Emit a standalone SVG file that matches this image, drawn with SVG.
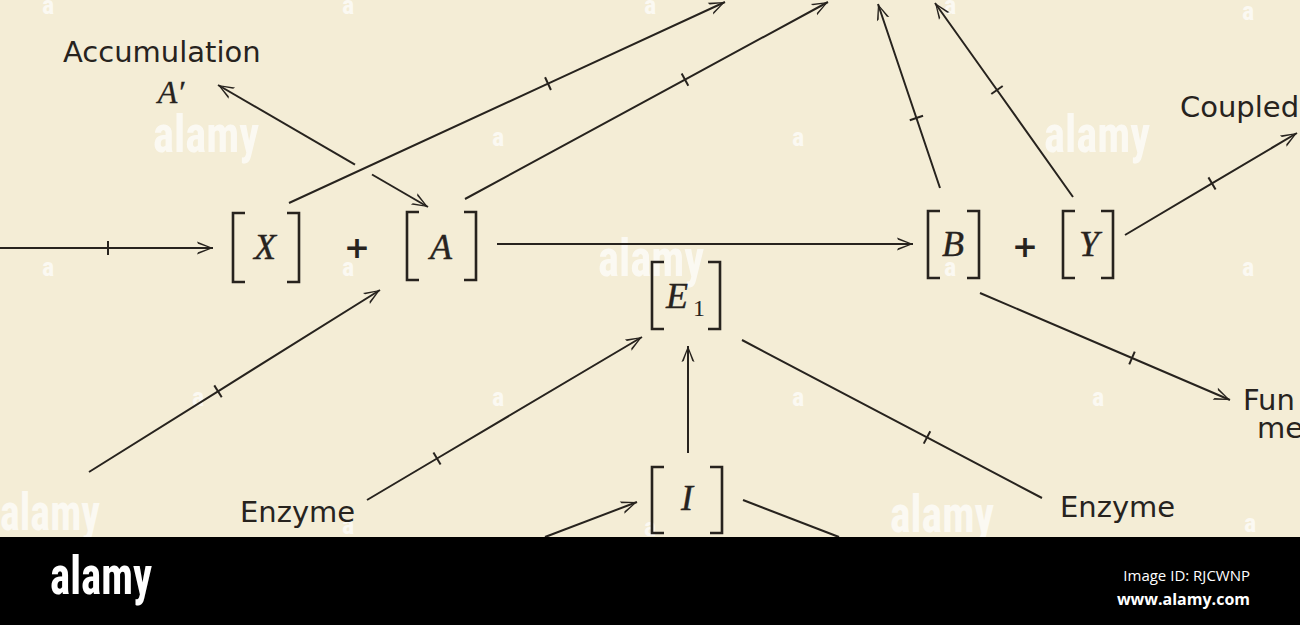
<svg xmlns="http://www.w3.org/2000/svg" width="1300" height="625" viewBox="0 0 1300 625">
  <style>
    .ln { fill: none; stroke: #27231e; stroke-width: 2; }
    .br { fill: none; stroke: #27231e; stroke-width: 2.6; }
    .var { font-family: "Liberation Serif", "DejaVu Serif", serif; font-style: italic; font-size: 36px; fill: #27231e; stroke: #27231e; stroke-width: 0.4; text-anchor: middle; }
    .lbl { font-family: "DejaVu Sans", "Liberation Sans", sans-serif; font-size: 29px; fill: #27231e; }
    .plus { font-family: "DejaVu Sans", sans-serif; font-weight: bold; font-size: 31px; fill: #27231e; text-anchor: middle; }
    .wm { font-family: "Liberation Sans Narrow", "Roboto Condensed", "Liberation Sans", sans-serif; font-weight: bold; fill: #ffffff; }
  </style>
  <defs>
    <marker id="arrow" viewBox="-18 -8 20 16" refX="0" refY="0" markerWidth="20" markerHeight="16" markerUnits="userSpaceOnUse" orient="auto">
      <path d="M0,0 L-16,-6.5 L-15,-4.3 L-3,0 L-15,4.3 L-16,6.5 Z" fill="#27231e"/>
    </marker>
    <marker id="tick" viewBox="-2 -9 4 18" refX="0" refY="0" markerWidth="4" markerHeight="18" markerUnits="userSpaceOnUse" orient="auto">
      <path d="M0,-7 L0,7" stroke="#27231e" stroke-width="2"/>
    </marker>
  </defs>

  <rect x="0" y="0" width="1300" height="625" fill="#f4edd6"/>

  <!-- watermarks -->
  <g id="watermark" opacity="0.7">
    <g class="wm" font-size="26">
      <text x="42" y="14">a</text>
      <text x="342" y="14">a</text>
      <text x="644" y="14">a</text>
      <text x="944" y="14">a</text>
      <text x="1242" y="20">a</text>
      <text x="492" y="146">a</text>
      <text x="792" y="146">a</text>
      <text x="42" y="276">a</text>
      <text x="342" y="276">a</text>
      <text x="944" y="276">a</text>
      <text x="1242" y="276">a</text>
      <text x="192" y="406">a</text>
      <text x="492" y="406">a</text>
      <text x="792" y="406">a</text>
      <text x="1092" y="406">a</text>
      <text x="342" y="534">a</text>
      <text x="644" y="536">a</text>
      <text x="1244" y="532">a</text>
    </g>
    <g class="wm" font-size="52">
      <text x="153" y="152" textLength="106" lengthAdjust="spacingAndGlyphs">alamy</text>
      <text x="1044" y="152" textLength="106" lengthAdjust="spacingAndGlyphs">alamy</text>
      <text x="598" y="276" textLength="106" lengthAdjust="spacingAndGlyphs">alamy</text>
      <text x="0" y="530" textLength="100" lengthAdjust="spacingAndGlyphs">alamy</text>
      <text x="890" y="532" textLength="104" lengthAdjust="spacingAndGlyphs">alamy</text>
    </g>
  </g>

  <!-- connectors -->
  <g id="connectors">
    <path class="ln" d="M0,248 L108,248 L213,248" marker-mid="url(#tick)" marker-end="url(#arrow)"/>
    <path class="ln" d="M289,203 L548,83.6 L725,2" marker-mid="url(#tick)" marker-end="url(#arrow)"/>
    <path class="ln" d="M465,199 L685,79.6 L828,2" marker-mid="url(#tick)" marker-end="url(#arrow)"/>
    <path class="ln" d="M940,188 L916.4,118 L878,4" marker-mid="url(#tick)" marker-end="url(#arrow)"/>
    <path class="ln" d="M1073,197 L997,90 L935,3" marker-mid="url(#tick)" marker-end="url(#arrow)"/>
    <path class="ln" d="M355,164.6 L218,85" marker-end="url(#arrow)"/>
    <path class="ln" d="M372,174.5 L428,207" marker-end="url(#arrow)"/>
    <path class="ln" d="M497,244 L913,244" marker-end="url(#arrow)"/>
    <path class="ln" d="M89,472 L218,391.3 L380,290" marker-mid="url(#tick)" marker-end="url(#arrow)"/>
    <path class="ln" d="M367,500 L437,458.5 L642,337" marker-mid="url(#tick)" marker-end="url(#arrow)"/>
    <path class="ln" d="M545,537 L637,502" marker-end="url(#arrow)"/>
    <path class="ln" d="M688,453 L688,346" marker-end="url(#arrow)"/>
    <path class="ln" d="M742,340 L927,437.4 L1042,498" marker-mid="url(#tick)"/>
    <path class="ln" d="M743,500 L839,537"/>
    <path class="ln" d="M980,293 L1132,358 L1230,400" marker-mid="url(#tick)" marker-end="url(#arrow)"/>
    <path class="ln" d="M1125,235 L1212,183.4 L1297,133" marker-mid="url(#tick)" marker-end="url(#arrow)"/>
  </g>

  <!-- nodes -->
  <g id="node-X">
    <path class="br" d="M245,213 L233,213 L233,282 L245,282 M287,213 L299,213 L299,282 L287,282"/>
    <text class="var" x="265" y="259">X</text>
  </g>
  <text id="plus-1" class="plus" x="357" y="258">+</text>
  <g id="node-A">
    <path class="br" d="M419,212 L407,212 L407,280 L419,280 M464,212 L476,212 L476,280 L464,280"/>
    <text class="var" x="441" y="259">A</text>
  </g>
  <g id="node-B">
    <path class="br" d="M940,211 L928,211 L928,278 L940,278 M967,211 L979,211 L979,278 L967,278"/>
    <text class="var" x="953" y="256">B</text>
  </g>
  <text id="plus-2" class="plus" x="1025" y="257">+</text>
  <g id="node-Y">
    <path class="br" d="M1075,211 L1063,211 L1063,278 L1075,278 M1101,211 L1113,211 L1113,278 L1101,278"/>
    <text class="var" x="1089" y="256">Y</text>
  </g>
  <g id="node-E1">
    <path class="br" d="M664,262 L652,262 L652,329 L664,329 M708,262 L720,262 L720,329 L708,329"/>
    <text class="var" x="677" y="308">E</text>
    <text x="699" y="316" font-family="Liberation Serif, DejaVu Serif, serif" font-size="24" fill="#27231e" text-anchor="middle">1</text>
  </g>
  <g id="node-I">
    <path class="br" d="M664,467 L652,467 L652,533 L664,533 M710,467 L722,467 L722,533 L710,533"/>
    <text class="var" x="687" y="510">I</text>
  </g>

  <g id="label-accumulation">
    <text class="lbl" x="63" y="62">Accumulation</text>
    <text x="171" y="103" font-family="Liberation Serif, DejaVu Serif, serif" font-style="italic" font-size="32" fill="#27231e" stroke="#27231e" stroke-width="0.3" text-anchor="middle">A′</text>
  </g>
  <text id="label-coupled" class="lbl" x="1180" y="117">Coupled</text>
  <g id="label-functional">
    <text class="lbl" x="1243" y="410">Fun</text>
    <text class="lbl" x="1257" y="438">met</text>
  </g>
  <text id="label-enzyme-left" class="lbl" x="240" y="522">Enzyme</text>
  <text id="label-enzyme-right" class="lbl" x="1060" y="517">Enzyme</text>

  <!-- bottom bar -->
  <g id="footer">
    <rect x="0" y="537" width="1300" height="88" fill="#000000"/>
    <text x="50" y="594" font-family="Liberation Sans Narrow, Roboto Condensed, Liberation Sans, sans-serif" font-weight="bold" font-size="54" fill="#ffffff" textLength="102" lengthAdjust="spacingAndGlyphs">alamy</text>
    <text x="1250" y="581" font-family="Open Sans, DejaVu Sans, sans-serif" font-size="15" fill="#ffffff" text-anchor="end">Image ID: RJCWNP</text>
    <text x="1250" y="605" font-family="Open Sans, DejaVu Sans, sans-serif" font-weight="bold" font-size="16" fill="#ffffff" text-anchor="end">www.alamy.com</text>
  </g>
</svg>
